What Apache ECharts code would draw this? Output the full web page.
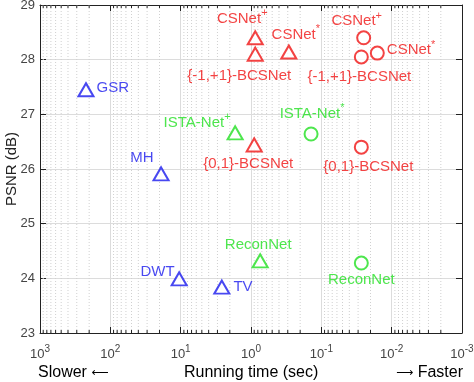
<!DOCTYPE html>
<html><head><meta charset="utf-8">
<script src="https://cdn.jsdelivr.net/npm/echarts@6/dist/echarts.min.js"></script>
<style>html,body{margin:0;padding:0;background:#fff}#c{width:474px;height:382px}</style>
</head><body><div id="c"></div>
<script>
// ---- data ----
const methods = ['GSR','MH','DWT','TV','ReconNet','ReconNet','ISTA-Net+','ISTA-Net*','{0,1}-BCSNet','{0,1}-BCSNet','CSNet+','{-1,+1}-BCSNet','CSNet*','CSNet+','{-1,+1}-BCSNet','CSNet*'];
const runTimes = [222, 19, 10.5, 2.6, 0.74, 0.027, 1.68, 0.14, 0.9, 0.027, 0.87, 0.87, 0.29, 0.025, 0.027, 0.016];
const psnrValues = [27.45, 25.91, 23.99, 23.84, 24.32, 24.28, 26.66, 26.64, 26.44, 26.40, 28.40, 28.10, 28.14, 28.40, 28.05, 28.12];
const markerKind = ['tri','tri','tri','tri','tri','circ','tri','circ','tri','circ','tri','tri','tri','circ','circ','circ'];
const colorGroup = ['b','b','b','b','g','g','g','g','r','r','r','r','r','r','r','r'];
const yTicks = [23, 24, 25, 26, 27, 28, 29];
const xDecades = [1000, 100, 10, 1, 0.1, 0.01, 0.001];
const minorValues = [];
for (let k = -3; k <= 2; k++) for (let m = 2; m <= 9; m++) minorValues.push(+(m * Math.pow(10, k)).toPrecision(3));

// ---- styles ----
const colors = { b: '#1a1aee', g: '#22e022', r: '#f01414' };
const labelLayout = [
  ['right', [-3, -2]], ['left', [6, -16]], ['left', [9, -7]], ['right', [-2, 0]],
  ['top', [-2, 4]], ['bottom', [0, -3]], ['left', [9, -10]], ['top', [1, 3]],
  ['bottom', [-6, -1]], ['bottom', [7, 0]], ['top', [-13, 4]], ['bottom', [-16, 2]],
  ['top', [7, 6]], ['top', [-7, 7]], ['bottom', [-2, 0]], ['right', [-3, -3]]
];
const FONT = 'Liberation Sans, Arial, sans-serif';
const TICKCOL = '#444';
function fmtName(n) {
  const last = n[n.length - 1];
  if (last === '+' || last === '*') return '{n|' + n.slice(0, -1) + '}{s|' + last + '}';
  return n;
}
function fmtExp(v) {
  const e = Math.round(Math.log10(v));
  return '{b|10}{e|' + e + '}';
}

const chart = echarts.init(document.getElementById('c'));
const YMIN = yTicks[0], YMAX = yTicks[yTicks.length - 1];

const pointData = methods.map((m, i) => ({
  value: [runTimes[i], psnrValues[i]],
  symbol: markerKind[i] === 'tri' ? 'emptyTriangle' : 'emptyCircle',
  symbolSize: markerKind[i] === 'tri' ? [15, 13] : 13,
  itemStyle: { color: colors[colorGroup[i]], borderColor: colors[colorGroup[i]], borderWidth: 1 },
  label: {
    show: true,
    position: labelLayout[i][0],
    offset: labelLayout[i][1],
    formatter: fmtName(m),
    fontSize: 15, fontFamily: FONT, color: colors[colorGroup[i]],
    rich: {
      n: { fontSize: 15, fontFamily: FONT, color: colors[colorGroup[i]] },
      s: { fontSize: 11, fontFamily: FONT, color: colors[colorGroup[i]], padding: [0, 0, 11, 0] }
    }
  }
}));

const xAxisBase = {
  type: 'log', logBase: 10, inverse: true, min: xDecades[6], max: xDecades[0],
  axisLine: { show: true, lineStyle: { color: '#222', width: 1 } },
  axisTick: { show: true, inside: true, length: 6, lineStyle: { color: '#222' } },
  splitLine: { show: false }
};

const textRich = {
  t: { fontSize: 16, fontFamily: FONT, color: '#222' },
  a: { fontSize: 12, fontFamily: 'DejaVu Sans, sans-serif', color: '#222' }
};

chart.setOption({
  animation: false,
  grid: { left: 40, right: 12, top: 5, bottom: 49, show: false, containLabel: false, outerBoundsMode: 'none' },
  xAxis: [
    Object.assign({}, xAxisBase, {
      position: 'bottom',
      splitLine: { show: true, lineStyle: { color: '#dcdcdc', width: 1 } },
      axisLabel: {
        margin: 11, formatter: fmtExp,
        rich: {
          b: { fontSize: 13, fontFamily: FONT, color: TICKCOL },
          e: { fontSize: 10, fontFamily: FONT, color: TICKCOL, padding: [0, 0, 10, 0] }
        }
      }
    }),
    Object.assign({}, xAxisBase, { position: 'top', axisLabel: { show: false } })
  ],
  yAxis: [
    {
      type: 'value', min: YMIN, max: YMAX, interval: 1, position: 'left',
      axisLine: { show: true, lineStyle: { color: '#222' } },
      axisTick: { show: true, inside: true, length: 6, lineStyle: { color: '#222' } },
      axisLabel: { fontSize: 13, fontFamily: FONT, color: TICKCOL, margin: 5 },
      splitLine: { show: true, lineStyle: { color: '#dcdcdc', width: 1 } },
      name: 'PSNR (dB)', nameLocation: 'middle', nameGap: 21, nameMoveOverlap: false,
      nameTextStyle: { fontSize: 15, fontFamily: FONT, color: '#222' }
    },
    {
      type: 'value', min: YMIN, max: YMAX, interval: 1, position: 'right',
      axisLine: { show: true, lineStyle: { color: '#222' } },
      axisTick: { show: true, inside: true, length: 6, lineStyle: { color: '#222' } },
      axisLabel: { show: false }, splitLine: { show: false }
    }
  ],
  series: [
    {
      type: 'custom', silent: true, z: 1,
      data: minorValues.map(v => [v]),
      renderItem: function (params, api) {
        const v = api.value(0);
        const p0 = api.coord([v, YMIN]);
        const p1 = api.coord([v, YMAX]);
        return {
          type: 'group',
          children: [
            { type: 'line', shape: { x1: p0[0], y1: p0[1], x2: p1[0], y2: p1[1] },
              style: { stroke: '#d0d0d0', lineWidth: 1, lineDash: [1, 2] } },
            { type: 'line', shape: { x1: p0[0], y1: p0[1], x2: p0[0], y2: p0[1] - 3 },
              style: { stroke: '#222', lineWidth: 1 } },
            { type: 'line', shape: { x1: p1[0], y1: p1[1], x2: p1[0], y2: p1[1] + 3 },
              style: { stroke: '#222', lineWidth: 1 } }
          ]
        };
      }
    },
    {
      type: 'scatter', z: 5,
      data: pointData
    }
  ],
  graphic: [
    { type: 'text', left: 38, top: 365, style: { text: '{t|Slower }{a|\u27F5}', rich: textRich } },
    { type: 'text', left: 184, top: 365, style: { text: '{t|Running time (sec)}', rich: textRich } },
    { type: 'text', right: 11, top: 365, style: { text: '{a|\u27F6}{t| Faster}', rich: textRich } }
  ]
});
</script></body></html>
